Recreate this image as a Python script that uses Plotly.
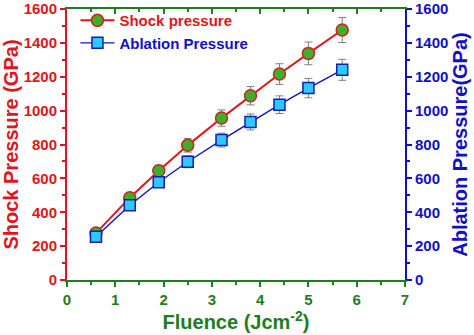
import plotly.graph_objects as go

# Laser fluence (J/cm^2) and measured pressures (GPa)
fluence = [0.6, 1.3, 1.9, 2.5, 3.2, 3.8, 4.4, 5.0, 5.7]
shock_pressure = [277, 486, 645, 795, 956, 1088, 1216, 1338, 1476]
shock_err = [14, 24, 32, 40, 48, 54, 61, 67, 74]
ablation_pressure = [256, 441, 577, 698, 826, 933, 1035, 1133, 1241]
ablation_err = [13, 22, 29, 35, 41, 47, 52, 57, 62]

RED = "#e0161c"
BLUE = "#1010c8"
GREEN = "#1e7d1e"
FONT = "Liberation Sans"

fig = go.Figure()

fig.add_trace(go.Scatter(
    x=fluence, y=shock_pressure,
    mode="lines+markers",
    name="<span style='color:%s'>Shock pressure</span>" % RED,
    line=dict(color=RED, width=2),
    marker=dict(symbol="circle", size=12, color="#3fae2a",
                line=dict(color="#c8281e", width=1.5)),
    error_y=dict(type="data", array=shock_err, color="#808080",
                 thickness=1, width=4),
))

fig.add_trace(go.Scatter(
    x=fluence, y=ablation_pressure,
    mode="lines+markers",
    name="<span style='color:%s'>Ablation Pressure</span>" % BLUE,
    yaxis="y2",
    line=dict(color=BLUE, width=1.4),
    marker=dict(symbol="square", size=11, color="#2ec8ff",
                line=dict(color="#1020b0", width=1.5)),
    error_y=dict(type="data", array=ablation_err, color="#808080",
                 thickness=1, width=4),
))

# invisible trace to carry the top frame axis
fig.add_trace(go.Scatter(x=[0, 7], y=[0, 0], xaxis="x2", mode="lines",
                         line=dict(width=0), showlegend=False,
                         hoverinfo="skip", opacity=0))

tick_font = dict(family=FONT, size=15, weight="bold")
title_font = dict(family=FONT, size=20, weight="bold")

fig.update_layout(
    width=474, height=335,
    margin=dict(l=67, r=69, t=9, b=55, autoexpand=False),
    paper_bgcolor="white", plot_bgcolor="white",
    showlegend=True,
    legend=dict(x=0.025, y=1.018, xanchor="left", yanchor="top",
                bgcolor="rgba(0,0,0,0)",
                font=dict(family=FONT, size=15, weight="bold"),
                itemwidth=34, tracegroupgap=0),
    xaxis=dict(
        range=[0, 7], dtick=1, tick0=0, automargin=False,
        showgrid=False, zeroline=False,
        showline=True, linecolor=GREEN, linewidth=2,
        ticks="outside", ticklen=5, tickwidth=2, tickcolor=GREEN,
        minor=dict(ticks="outside", ticklen=3, dtick=0.5, tickcolor=GREEN, tickwidth=2),
        tickfont=dict(tick_font, color=GREEN),
        title=dict(text="Fluence (Jcm<sup>-2</sup>)",
                   font=dict(title_font, color=GREEN), standoff=4),
    ),
    xaxis2=dict(
        overlaying="x", side="top", anchor="y", automargin=False,
        range=[0, 7], dtick=1, tick0=0,
        showgrid=False, zeroline=False, showticklabels=False,
        showline=True, linecolor=GREEN, linewidth=2,
        ticks="inside", ticklen=5, tickwidth=2, tickcolor=GREEN,
        minor=dict(ticks="inside", ticklen=3, dtick=0.5, tickcolor=GREEN, tickwidth=2),
    ),
    yaxis=dict(
        range=[0, 1600], dtick=200, automargin=False,
        showgrid=False, zeroline=False,
        showline=True, linecolor=RED, linewidth=2,
        ticks="outside", ticklen=5, tickwidth=2, tickcolor=RED,
        minor=dict(ticks="outside", ticklen=3, dtick=100, tickcolor=RED, tickwidth=2),
        tickfont=dict(tick_font, color=RED),
        title=dict(text="Shock Pressure (GPa)",
                   font=dict(title_font, color=RED), standoff=2),
    ),
    yaxis2=dict(
        overlaying="y", side="right", anchor="x", automargin=False,
        range=[0, 1600], dtick=200,
        showgrid=False, zeroline=False,
        showline=True, linecolor=BLUE, linewidth=2,
        ticks="outside", ticklen=5, tickwidth=2, tickcolor=BLUE,
        minor=dict(ticks="outside", ticklen=3, dtick=100, tickcolor=BLUE, tickwidth=2),
        tickfont=dict(tick_font, color=BLUE),
        title=dict(text="Ablation Pressure(GPa)",
                   font=dict(title_font, color=BLUE), standoff=6),
    ),
)

fig.write_html("out.html")
